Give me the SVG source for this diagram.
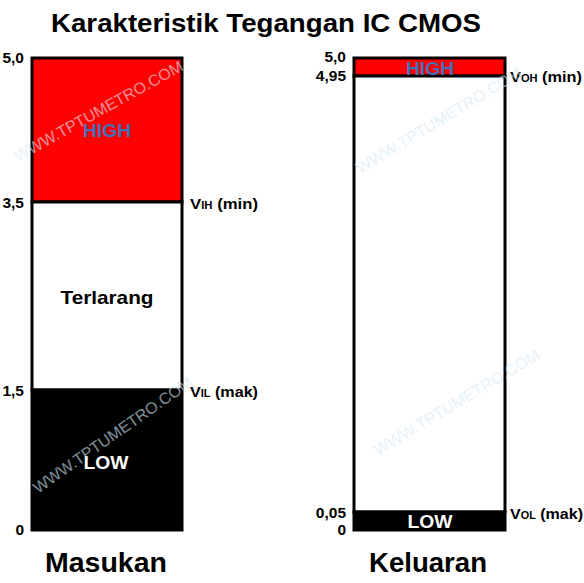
<svg xmlns="http://www.w3.org/2000/svg" width="584" height="583" viewBox="0 0 584 583">
<style>
text{font-family:"Liberation Sans","Open Sans",Arial,sans-serif;font-weight:bold}
.lbl{font-size:15.5px;fill:#000}
.r{text-anchor:end}
.c{text-anchor:middle}
.box{stroke:#000;stroke-width:3}
.wm{font-size:16px;fill:#d6eaf7;opacity:0.6;font-weight:normal}
.sub{font-size:10.5px}
</style>
<rect width="584" height="583" fill="#fff"/>
<text x="266" y="32" class="c" font-size="26" textLength="430" lengthAdjust="spacingAndGlyphs">Karakteristik Tegangan IC CMOS</text>
<g id="masukan">
<rect x="32" y="58" width="150" height="144" fill="#ff0000" class="box"/>
<rect x="32" y="202" width="150" height="188" fill="#fff" class="box"/>
<rect x="32" y="390" width="150" height="140" fill="#000" class="box"/>
<text x="107" y="137" class="c" font-size="18" fill="#4070b8" textLength="48" lengthAdjust="spacingAndGlyphs">HIGH</text>
<text x="107" y="304" class="c" font-size="19" fill="#000" textLength="93" lengthAdjust="spacingAndGlyphs">Terlarang</text>
<text x="106" y="469" class="c" font-size="18" fill="#fff" textLength="45" lengthAdjust="spacingAndGlyphs">LOW</text>
<text x="24" y="63" class="lbl r">5,0</text>
<text x="24" y="208" class="lbl r">3,5</text>
<text x="24" y="396" class="lbl r">1,5</text>
<text x="24" y="535" class="lbl r">0</text>
<text x="190" y="209" class="lbl" textLength="68" lengthAdjust="spacingAndGlyphs">V<tspan class="sub">IH</tspan> (min)</text>
<text x="190" y="397" class="lbl" textLength="68" lengthAdjust="spacingAndGlyphs">V<tspan class="sub">IL</tspan> (mak)</text>
<text x="106" y="572" class="c" font-size="28" textLength="122" lengthAdjust="spacingAndGlyphs">Masukan</text>
</g>
<g id="keluaran">
<rect x="354" y="58" width="151" height="18" fill="#ff0000" class="box"/>
<rect x="354" y="76" width="151" height="436" fill="#fff" class="box"/>
<rect x="354" y="512" width="151" height="18" fill="#000" class="box"/>
<text x="430" y="75" class="c" font-size="18" fill="#4070b8" textLength="48" lengthAdjust="spacingAndGlyphs">HIGH</text>
<text x="430" y="528" class="c" font-size="18" fill="#fff" textLength="45" lengthAdjust="spacingAndGlyphs">LOW</text>
<text x="346" y="62" class="lbl r">5,0</text>
<text x="346" y="81" class="lbl r">4,95</text>
<text x="346" y="518" class="lbl r">0,05</text>
<text x="346" y="535" class="lbl r">0</text>
<text x="510" y="82" class="lbl" textLength="72" lengthAdjust="spacingAndGlyphs">V<tspan class="sub">OH</tspan> (min)</text>
<text x="510" y="519" class="lbl" textLength="73" lengthAdjust="spacingAndGlyphs">V<tspan class="sub">OL</tspan> (mak)</text>
<text x="428" y="572" class="c" font-size="28" textLength="118" lengthAdjust="spacingAndGlyphs">Keluaran</text>
</g>
<g id="watermarks">
<text class="wm" transform="translate(18,162) rotate(-29)">WWW.TPTUMETRO.COM</text>
<text class="wm" transform="translate(38,494) rotate(-35)">WWW.TPTUMETRO.COM</text>
<text class="wm" transform="translate(360,174) rotate(-31)">WWW.TPTUMETRO.COM</text>
<text class="wm" transform="translate(378,456) rotate(-31)">WWW.TPTUMETRO.COM</text>
</g>
</svg>
